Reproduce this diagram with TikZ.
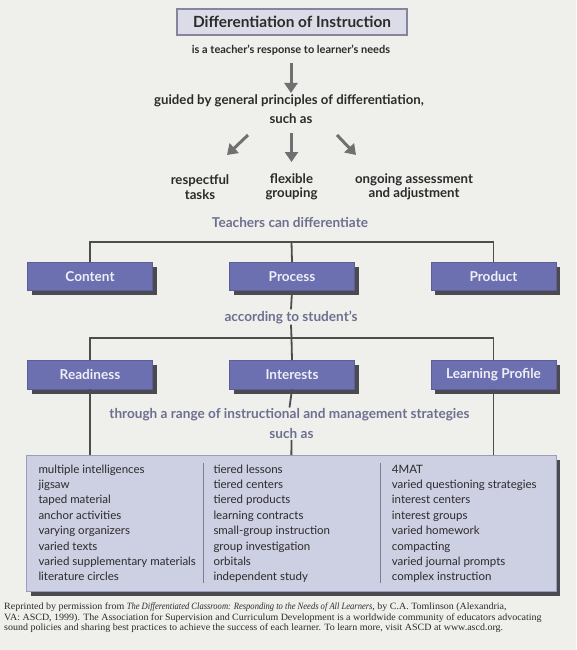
\documentclass[tikz,border=0pt]{standalone}
\usepackage{fontspec}
\setmainfont{Lato}
\newfontfamily\footfont{Liberation Serif}[FakeStretch=1.04]
\newfontfamily\footit{Liberation Serif}[FakeStretch=0.89]
\usetikzlibrary{arrows.meta,shadows}
\definecolor{bg}{HTML}{EFEFEC}
\definecolor{ink}{HTML}{2B2B2B}
\definecolor{purpletext}{HTML}{6E7090}
\definecolor{boxblue}{HTML}{6C6FB0}
\definecolor{boxtext}{HTML}{EEEEF6}
\definecolor{shadowgray}{HTML}{4A4A50}
\definecolor{titlefill}{HTML}{DCDCE8}
\definecolor{titledraw}{HTML}{85859E}
\definecolor{listfill}{HTML}{CDCFE2}
\definecolor{listdraw}{HTML}{9A9CC0}
\definecolor{linegray}{HTML}{4D4D4D}
\definecolor{arrowgray}{HTML}{707070}
\tikzset{
  hdr/.style={font=\bfseries\fontsize{13.2}{14.5}\selectfont, text=ink, inner sep=1pt, align=center},
  sub/.style={font=\bfseries\fontsize{13.6}{15}\selectfont, text=purpletext, inner sep=1pt, align=center},
  bluebox/.style={fill=boxblue, draw=boxblue!85!black, line width=0.6pt, minimum width=125, minimum height=28.5,
     text=boxtext, font=\bfseries\fontsize{13.6}{15}\selectfont,
     drop shadow={shadow xshift=4pt, shadow yshift=-4.5pt, fill=shadowgray, opacity=1}},
  conn/.style={draw=linegray, line width=1.8pt},
  bigarrow/.style={draw=arrowgray, line width=3pt, -{Triangle[width=13pt,length=10pt]}},
  item/.style={font=\fontsize{11.5}{13}\selectfont, text=ink, inner sep=0pt, anchor=base west},
  foot/.style={font=\footfont\fontsize{9.6}{11}\selectfont, text=ink, inner sep=0pt, anchor=base west}
}
\begin{document}
\begin{tikzpicture}[x=1pt,y=-1pt]
\fill[bg] (0,0) rectangle (576,650);
\useasboundingbox (0,0) rectangle (576,650);

% title
\node[fill=titlefill, draw=titledraw, line width=1.2pt, minimum width=230, minimum height=26,
      font=\bfseries\fontsize{15.4}{17}\selectfont, text=ink] (title) at (292,22) {Differentiation of Instruction};
\node[font=\bfseries\fontsize{11}{13}\selectfont, text=ink, inner sep=1pt] (resp) at (291,50) {is a teacher’s response to learner’s needs};
\node[hdr] (guided) at (289,101) {guided by general principles of differentiation,};
\node[hdr] (suchas1) at (291,119) {such as};
\coordinate (a0s) at (291,63); \coordinate (a0e) at (291,93);
\draw[bigarrow] (a0s) -- (a0e);

\coordinate (a1s) at (248,135); \coordinate (a1e) at (227,155);
\coordinate (a2s) at (291.5,133); \coordinate (a2e) at (291.5,162);
\coordinate (a3s) at (337,135); \coordinate (a3e) at (356,155);
\draw[bigarrow] (a1s) -- (a1e);
\draw[bigarrow] (a2s) -- (a2e);
\draw[bigarrow] (a3s) -- (a3e);

\node[hdr] (tasks) at (200,187) {respectful\\tasks};
\node[hdr] (grouping) at (291.5,187) {flexible\\grouping};
\node[hdr] (ongoing) at (414,187) {ongoing assessment\\and adjustment};

\node[sub] (teachers) at (290,222) {Teachers can differentiate};

% first row
\node[bluebox] (content) at (90,276.5) {Content};
\node[bluebox] (process) at (292,276.5) {Process};
\node[bluebox] (product) at (493.5,276.5) {Product};
\coordinate (t1) at (291.5,241.7);
\draw[conn] (content.north) |- (t1) -| (product.north);
\draw[conn] (t1) -- (process.north);

\node[sub] (according) at (291,317) {according to student’s};
\draw[conn] (process.south) -- (according.north);

% second row
\node[bluebox] (readiness) at (90,374.8) {Readiness};
\node[bluebox] (interests) at (292,374.8) {Interests};
\node[bluebox] (profile) at (493.5,374.8) {Learning Profile};
\coordinate (t2) at (291.5,338.3);
\draw[conn] (according.south) -- (t2);
\draw[conn] (readiness.north) |- (t2) -| (profile.north);
\draw[conn] (t2) -- (interests.north);

\node[sub] (through) at (289.5,415) {through a range of instructional and management strategies};
\node[sub] (suchas2) at (291.5,433.5) {such as};
\draw[conn] (interests.south) -- (through.north);

% list box
\node[fill=listfill, draw=listdraw, line width=1pt, minimum width=529.3, minimum height=135.5, inner sep=0pt,
      drop shadow={shadow xshift=4pt, shadow yshift=-4.5pt, fill=shadowgray, opacity=1}] (list) at (291.35,523.25) {};
\draw[conn] (suchas2.south) -- (list.north);
\draw[conn] (readiness.south) -- (readiness.south |- list.north);
\draw[conn] (profile.south) -- (profile.south |- list.north);
\draw[draw=listdraw!80!black, line width=1pt] (203.3,463) coordinate (d1a) -- (203.3,583) coordinate (d1b);
\draw[draw=listdraw!80!black, line width=1pt] (380,463) coordinate (d2a) -- (380,583) coordinate (d2b);

\foreach \t [count=\i from 0] in {multiple intelligences, jigsaw, taped material, anchor activities, varying organizers, varied texts, varied supplementary materials, literature circles}
  \node[item] (ca\i) at (38.3, 473+15.4*\i) {\t};
\foreach \t [count=\i from 0] in {tiered lessons, tiered centers, tiered products, learning contracts, small-group instruction, group investigation, orbitals, independent study}
  \node[item] (cb\i) at (213.3, 473+15.4*\i) {\t};
\foreach \t [count=\i from 0] in {4MAT, varied questioning strategies, interest centers, interest groups, varied homework, compacting, varied journal prompts, complex instruction}
  \node[item] (cc\i) at (391.7, 473+15.4*\i) {\t};

% footer
\node[foot] (f1) at (4,609.8) {Reprinted by permission from {\footit\itshape The Differentiated Classroom: Responding to the Needs of All Learners}, by C.A. Tomlinson (Alexandria,};
\node[foot] (f2) at (4,620.2) {VA: ASCD, 1999). The Association for Supervision and Curriculum Development is a worldwide community of educators advocating};
\node[foot] (f3) at (4,630.5) {sound policies and sharing best practices to achieve the success of each learner. To learn more, visit ASCD at www.ascd.org.};
\end{tikzpicture}
\end{document}
